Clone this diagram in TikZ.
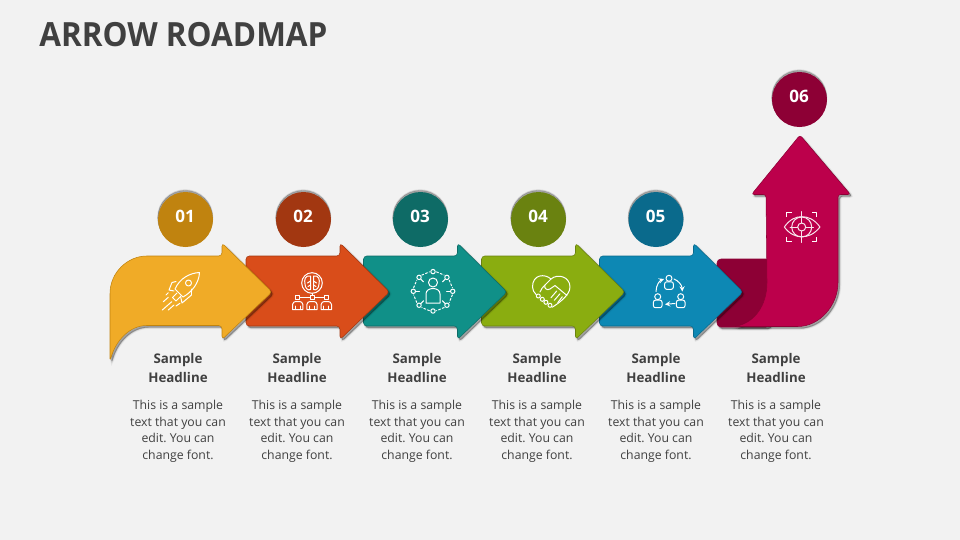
\documentclass[tikz,border=0pt]{standalone}
\usepackage{fontspec}
\setmainfont{Open Sans}
\newfontfamily\titlefont[FakeStretch=.945]{Open Sans}
\usetikzlibrary{shadows}
\definecolor{pagebg}{HTML}{F2F2F2}
\definecolor{inktext}{HTML}{404040}
\definecolor{amber}{HTML}{F0AB27}
\definecolor{amberdark}{HTML}{C0830F}
\definecolor{rust}{HTML}{D94D1A}
\definecolor{rustdark}{HTML}{A23711}
\definecolor{teal}{HTML}{109088}
\definecolor{tealdark}{HTML}{0E6B66}
\definecolor{lime}{HTML}{8AAD10}
\definecolor{limedark}{HTML}{6A8210}
\definecolor{ocean}{HTML}{0D88B4}
\definecolor{oceandark}{HTML}{0A6A8C}
\definecolor{berry}{HTML}{BC004B}
\definecolor{berrydark}{HTML}{8D0035}
\tikzset{
  softarrow/.style={
    general shadow={shadow xshift=1.3pt,shadow yshift=-1.5pt,fill=black,draw=black,line width=2.4pt,opacity=.05},
    general shadow={shadow xshift=1.3pt,shadow yshift=-1.5pt,fill=black,draw=black,line width=1.2pt,opacity=.1},
    general shadow={shadow xshift=1.3pt,shadow yshift=-1.5pt,fill=black,draw=black,line width=.2pt,opacity=.18}},
  softbadge/.style={
    general shadow={shadow xshift=-.2pt,shadow yshift=1.6pt,fill=black,draw=black,line width=.9pt,opacity=.1},
    general shadow={shadow xshift=-.2pt,shadow yshift=1.1pt,fill=black,draw=black,line width=.1pt,opacity=.25}},
  badge/.style={circle,minimum size=41.25bp,inner sep=0pt,softbadge},
  numtext/.style={text=white,font=\bfseries\fontsize{12.8bp}{15bp}\selectfont},
  headtext/.style={text=inktext,align=center,font=\bfseries\fontsize{10bp}{14.2bp}\selectfont},
  bodytext/.style={text=inktext,align=center,font=\frenchspacing\fontsize{9.2bp}{12.6bp}\selectfont},
  iconline/.style={draw=white,line width=.75pt,line cap=round,line join=round}
}
\begin{document}
\begin{tikzpicture}[x=.75bp,y=-.75bp]
\useasboundingbox (0,0) rectangle (960,540);
\fill[pagebg] (0,0) rectangle (960,540);
\node[anchor=west,text=inktext,font=\titlefont\bfseries\fontsize{25bp}{30bp}\selectfont,inner sep=0pt] (title) at (39,34.5) {ARROW ROADMAP};

\draw[berrydark,fill=berrydark,rounded corners=3pt,softarrow] (717,259)--(770,259)--(770,327)--(717,327)--cycle;
\fill[berrydark!85!black] (767,259)--(768,280) .. controls (768,305) and (755,322) .. (735,326.5)--(767,326.5)--cycle;
\draw[berrydark,fill=berry,softarrow,rounded corners=2pt] (735,326.5) .. controls (755,322) and (767,305) .. (767,280)--(766,194.5)--(751.5,194.5)--(800,135)--(850.5,194.5)--(838,194.5)--(838,280) .. controls (838,305) and (820,326.5) .. (795,326.5)--cycle;

\foreach \xa/\col/\cold in {599.5/ocean/oceandark,481.5/lime/limedark,363.5/teal/tealdark,246/rust/rustdark}{
\draw[\cold,fill=\col,softarrow,rounded corners=2.5pt] (\xa,256)--(\xa+94,256)--(\xa+94,243)--(\xa+143.5,292)--(\xa+94,339.5)--(\xa+94,326)--(\xa,326)--cycle;
}
\draw[amberdark,fill=amber,softarrow,rounded corners=2.5pt] (110,361)--(110,297) .. controls (110,272) and (128,256) .. (150,256)--(222,256)--(222,243)--(272,292)--(222,339.5)--(222,325.5)--(150,325.5) .. controls (130,325.5) and (116,340) .. (110,361)--cycle;

\foreach \n/\cx/\cy/\cold in {1/185.5/219.5/amberdark,2/303.5/219.5/rustdark,3/420.5/219.5/tealdark,4/538.5/219.5/limedark,5/656/219.5/oceandark,6/799.5/99.5/berrydark}{
\node[badge,fill=\cold] (badge\n) at (\cx,\cy) {};
\node[numtext] (num\n) at (\cx-.5,\cy-2.8) {0\n};
}
\foreach \n/\tx in {1/178,2/297,3/417,4/537,5/656,6/776}{
\node[headtext] (head\n) at (\tx,367.7) {Sample\\Headline};
\node[bodytext] (text\n) at (\tx,431.3) {This is a sample\\text that you can\\edit. You can\\change font.};
}

% rocket
\draw[iconline] (199.5,272.5) .. controls (190,273) and (180,278) .. (175,289)--(183,297) .. controls (192,292) and (199,283) .. (199.5,272.5)--cycle;
\draw[iconline] (188.5,283) circle[radius=3];
\draw[iconline] (176,281.5)--(172,282.5)--(169,290)--(174,291);
\draw[iconline] (191.5,289)--(191.5,295)--(182,303)--(180.5,296);
\draw[iconline] (177,293)--(172.5,297.5)--(176,301)--(180.5,296.5);
\draw[iconline] (171.7,301.7)--(162.3,310) (174,305)--(168.3,310) (180,303.3)--(176,306) (168.3,292.7)--(166,295) (168.3,297.3)--(163.3,301.7);
% brain and team
\draw[iconline] (312,283) circle[radius=10.3];
\draw[iconline] (310.5,276) .. controls (305,275) and (304,280) .. (305,284) .. controls (305,288) and (308,291) .. (310.5,289.5)--cycle;
\draw[iconline] (313.5,276) .. controls (319,275) and (320,280) .. (319,284) .. controls (319,288) and (316,291) .. (313.5,289.5)--cycle;
\draw[iconline] (310.5,281)--(307.5,283) (313.5,281)--(316.5,283) (310.5,285)--(308,286.5) (313.5,285)--(316,286.5);
\draw[iconline] (312,293.3)--(312,295.3) (299.7,297.3)--(324.3,297.3);
\foreach \px in {297.7,312,326.3}{
\draw[iconline,fill=rust] (\px-2,295.3) rectangle (\px+2,299.3);
\draw[iconline] (\px-5.2,309.5)--(\px-5.2,304.5) .. controls (\px-5.2,302.5) and (\px-3,301.5) .. (\px-2,301.5)--(\px+2,301.5) .. controls (\px+3,301.5) and (\px+5.2,302.5) .. (\px+5.2,304.5)--(\px+5.2,309.5)--cycle;
\draw[iconline] (\px-2.5,309.5)--(\px-2.5,306) (\px+2.5,309.5)--(\px+2.5,306);
}
% person and network
\draw[iconline] (433,282.5) circle[radius=4.5];
\draw[iconline] (426,303)--(426,294) .. controls (426,290.5) and (429,288.5) .. (433,288.5) .. controls (437,288.5) and (440,290.5) .. (440,294)--(440,303)--cycle;
\foreach \a in {0,45,...,315}{
\draw[iconline] ({433+19.7*cos(\a)},{291.3+19.7*sin(\a)}) circle[radius=2.2];
}
\foreach \a in {0,45,135,180,225,315}{
\draw[iconline] ({433+17.5*cos(\a)},{291.3+17.5*sin(\a)})--({433+13.5*cos(\a)},{291.3+13.5*sin(\a)});
}
\foreach \a in {22.5,67.5,...,337.5}{
\draw[iconline,dash pattern=on 1.5pt off 1.5pt] ({433+19.7*cos(\a-12)},{291.3+19.7*sin(\a-12)})--({433+19.7*cos(\a+12)},{291.3+19.7*sin(\a+12)});
}
% heart handshake
\draw[iconline] (551,279) .. controls (545,273.5) and (532.5,274) .. (532.5,287) .. controls (532.5,290) and (534,292.5) .. (536.5,295);
\draw[iconline] (552,307.3) .. controls (556,305) and (570,296) .. (570,287) .. controls (570,277) and (558,273) .. (551,279)--(545,285) .. controls (543.5,288) and (547,291) .. (550,289)--(555,285.5)--(567,295.5);
\draw[iconline] (540,292) .. controls (541,289) and (543,287) .. (545,285);
\foreach \bx/\by in {538.3/296,542.3/299.3,545.9/302.3,550/305.3}{
\draw[iconline] (\bx,\by) circle[radius=2];
}
\draw[iconline] (551,297.7)--(556.7,291) (554.3,300.3)--(560,293.7) (557.7,302.7)--(562.3,296.7);
% people in a cycle
\foreach \px/\py in {669/278.3,657.7/296.7,680.7/296.7}{
\draw[iconline] (\px,\py) circle[radius=3];
\draw[iconline,rounded corners=1.5pt] (\px-4.3,\py+11)--(\px-4.3,\py+3.5)--(\px+4.3,\py+3.5)--(\px+4.3,\py+11)--cycle;
}
\draw[iconline,->,>=stealth] (656,291.5) .. controls (656,285) and (660,280.5) .. (664,279);
\draw[iconline,->,>=stealth] (674,279) .. controls (678,280.5) and (682,285) .. (682.3,291.5);
\draw[iconline,->,>=stealth] (675,303.5)--(665,304.3);
% eye
\draw[iconline,draw=white!90!berry] (784.3,227) .. controls (790,219) and (796,216.7) .. (801.7,216.7) .. controls (808,216.7) and (814,219) .. (820,227) .. controls (814,234.5) and (808,236.7) .. (801.7,236.7) .. controls (796,236.7) and (790,234.5) .. (784.3,227)--cycle;
\draw[iconline,draw=white!90!berry] (801.7,227) circle[radius=4] (801.7,227) circle[radius=10];
\draw[iconline,draw=white!90!berry] (801.7,211.5)--(801.7,223) (801.7,231)--(801.7,242.5) (790,227)--(797.7,227) (805.7,227)--(813.5,227);
\foreach \sx/\sy in {1/1,-1/1,1/-1,-1/-1}{
\draw[iconline,line cap=butt] (801.7-15*\sx,227-10*\sy)--(801.7-15*\sx,227-14.7*\sy)--(801.7-10*\sx,227-14.7*\sy);
}
\end{tikzpicture}
\end{document}
